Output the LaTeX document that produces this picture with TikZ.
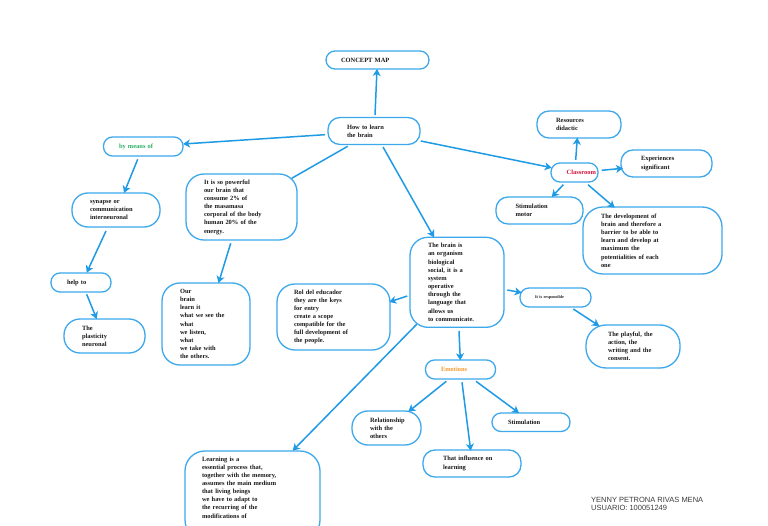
\documentclass[tikz,border=0pt]{standalone}
\usepackage{fontspec}
\setmainfont{Liberation Serif}
\newfontfamily\footfont{Liberation Sans}
\usetikzlibrary{calc,arrows.meta}
\definecolor{edgeblue}{HTML}{1F9BE6}
\definecolor{boxblue}{HTML}{3DA8EC}
\definecolor{ink}{HTML}{1A1A1A}
\definecolor{mygreen}{HTML}{2EAF62}
\definecolor{mycrimson}{HTML}{D3123F}
\definecolor{myorange}{HTML}{F59A2E}
\tikzset{
  bx/.style n args={4}{draw=boxblue,line width=1.3pt,fill=white,inner sep=0pt,
    minimum width=#1pt,minimum height=#2pt,text width=#1pt,align=left,
    rounded corners=#4pt,text=ink,
    font=\fontsize{6.45}{8.15}\selectfont\bfseries,
    execute at begin node={\leftskip=#3pt\relax}},
  arr/.style={draw=edgeblue,line width=1.5pt,-{Stealth[length=7pt,width=8pt,inset=2pt]}},
  plain/.style={draw=edgeblue,line width=1.5pt},
}
\newcommand\lk[7][arr]{\draw[#1] ($(#2)+(#3,#4)$) -- ($(#5)+(#6,#7)$);}
\begin{document}
\begin{tikzpicture}[x=1pt,y=-1pt]
\useasboundingbox[fill=white] (0,0) rectangle (768,526);
\node[bx={103}{18}{15}{9}] (cm) at (377.5,60) {CONCEPT MAP};
\node[bx={92}{27}{19}{12}] (how) at (374,131) {How to learn\\the brain};
\node[bx={79.5}{19}{15.5}{9}, text=mygreen] (bym) at (143.25,146.5) {by means of};
\node[bx={88}{34}{18}{16}] (syn) at (116,210) {synapse or\\communication\\interneuronal};
\node[bx={111}{66}{18}{18}] (pow) at (241.5,207) {It is so powerful\\our brain that\\consume 2\% of\\the masamasa\\corporal of the body\\human 20\% of the\\energy.};
\node[bx={60}{19}{16}{9}] (help) at (81,282.5) {help to};
\node[bx={81}{34}{18}{16}] (plas) at (104.5,336) {The\\plasticity\\neuronal};
\node[bx={88}{82}{18}{18}] (our) at (206,324) {Our\\brain\\learn it\\what we see the\\what\\we listen,\\what\\we take with\\the others.};
\node[bx={113}{66}{17}{18}] (rol) at (333.5,317) {Rol del educador\\they are the keys\\for entry\\create a scope\\compatible for the\\full development of\\the people.};
\node[bx={94}{90}{18}{18}] (brain) at (457,282.3) {The brain is\\an organism\\biological\\social, it is a\\system\\operative\\through the\\language that\\allows us\\to communicate.};
\node[bx={71}{19}{15}{9}, font=\fontsize{4.2}{6}\selectfont\bfseries] (resp) at (555.5,297.5) {It is responsible};
\node[bx={94}{43}{22}{20}] (play) at (633,346.5) {The playful, the\\action, the\\writing and the\\consent.};
\node[bx={70}{19}{15.5}{9}, text=myorange] (emo) at (460.5,369.5) {Emotions};
\node[bx={69}{34}{18}{16}] (rel) at (386.5,428) {Relationship\\with the\\others};
\node[bx={78}{18.5}{16}{9}] (stim) at (531,422.25) {Stimulation};
\node[bx={98}{27}{20}{12}] (infl) at (472,463.5) {That influence on\\learning};
\node[bx={135}{89}{17}{20}] (learn) at (252.5,495.5) {Learning is a\\essential process that,\\together with the memory,\\assumes the main medium\\that living beings\\we have to adapt to\\the recurring of the\\modifications of\\\mbox{}\\\mbox{}};
\node[bx={47}{19}{15.7}{9}, text=mycrimson] (cls) at (574.5,172.5) {Classroom};
\node[bx={84}{27}{19}{12}] (res) at (579,124.5) {Resources\\didactic};
\node[bx={91}{27}{20}{12}] (exp) at (666.5,163.5) {Experiences\\significant};
\node[bx={87}{27}{19.5}{12}] (mot) at (539.5,210.5) {Stimulation\\motor};
\node[bx={139}{67}{18}{20}] (dev) at (652.5,240.5) {The development of\\brain and therefore a\\barrier to be able to\\learn and develop at\\maximum the\\potentialities of each\\one};
\node[anchor=north west,inner sep=0pt,align=left,text=ink!85,font=\footfont\fontsize{7.5}{8.5}\selectfont] (sig) at (591,497) {YENNY PETRONA RIVAS MENA\\USUARIO: 100051249};
\lk{how}{1}{-16}{cm}{-.5}{9}
\lk{how}{-49}{3.7}{bym}{39.75}{-2.5}
\lk{bym}{-5.55}{12.8}{syn}{8}{-17}
\lk{syn}{-10}{21}{help}{5.7}{-9.8}
\lk{help}{5.7}{11.8}{plas}{-7.8}{-17}
\lk[plain]{how}{-26.3}{15.3}{pow}{50.2}{-28.7}
\lk{pow}{-10.8}{36.3}{our}{12.5}{-41}
\lk{how}{9}{16}{brain}{-23}{-45}
\lk{how}{46.7}{10}{cls}{-22.8}{-4.8}
\lk{cls}{1.2}{-12.5}{res}{-1.7}{13.2}
\lk{cls}{27.2}{-2.2}{exp}{-43.5}{4.8}
\lk{cls}{-11.2}{12.2}{mot}{12.2}{-13.5}
\lk{cls}{13.5}{12.2}{dev}{-37.8}{-32.8}
\lk{brain}{-49.7}{13.7}{rol}{55.8}{-15}
\lk{brain}{50.3}{7.7}{resp}{-33.8}{-4.8}
\lk{resp}{17.8}{11.5}{play}{-33.7}{-20.5}
\lk{brain}{2}{48.7}{emo}{-.2}{-9.2}
\lk{brain}{-40.3}{42}{learn}{40.2}{-44.8}
\lk{emo}{-14.2}{11.8}{rel}{21.8}{-16.3}
\lk{emo}{1.5}{12.8}{infl}{-1.3}{-12.8}
\lk{emo}{15.5}{11.8}{stim}{-12}{-9.25}
\end{tikzpicture}
\end{document}
